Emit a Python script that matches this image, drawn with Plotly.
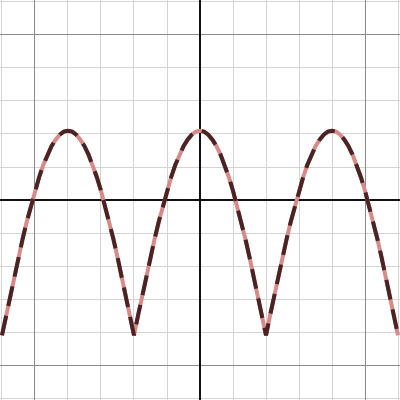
import plotly.graph_objects as go

# x from -6 to 6 step 0.125, y values
xs = [-6 + 0.125 * i for i in range(97)]
ys = [-4.10, -3.49, -2.89, -2.30, -1.73, -1.18, -0.66, -0.17, 0.28, 0.69, 1.06, 1.37, 1.63, 1.83, 1.98, 2.07,
      2.10, 2.07, 1.98, 1.83, 1.63, 1.37, 1.06, 0.69, 0.28, -0.17, -0.66, -1.18, -1.73, -2.30, -2.89, -3.49,
      -4.10, -3.49, -2.89, -2.30, -1.73, -1.18, -0.66, -0.17, 0.28, 0.69, 1.06, 1.37, 1.63, 1.83, 1.98, 2.07,
      2.10, 2.07, 1.98, 1.83, 1.63, 1.37, 1.06, 0.69, 0.28, -0.17, -0.66, -1.18, -1.73, -2.30, -2.89, -3.49,
      -4.10, -3.49, -2.89, -2.30, -1.73, -1.18, -0.66, -0.17, 0.28, 0.69, 1.06, 1.37, 1.63, 1.83, 1.98, 2.07,
      2.10, 2.07, 1.98, 1.83, 1.63, 1.37, 1.06, 0.69, 0.28, -0.17, -0.66, -1.18, -1.73, -2.30, -2.89, -3.49,
      -4.10]

fig = go.Figure()
fig.add_trace(go.Scatter(x=xs, y=ys, mode="lines", line=dict(color="#d88a88", width=4)))
fig.add_trace(go.Scatter(x=xs, y=ys, mode="lines", line=dict(color="#4a2424", width=4, dash="20px,10px")))

ax = dict(range=[-6.06, 6.06], dtick=5, tick0=0, showticklabels=False, ticks="",
          showgrid=True, gridcolor="#8a8a8a", gridwidth=1,
          minor=dict(dtick=1, tick0=0, showgrid=True, gridcolor="#d4d4d4", gridwidth=1),
          zeroline=True, zerolinecolor="#111111", zerolinewidth=1.5, fixedrange=True)
fig.update_layout(width=400, height=400, margin=dict(l=0, r=0, t=0, b=0),
                  plot_bgcolor="white", paper_bgcolor="white", showlegend=False,
                  xaxis=ax, yaxis=ax)
fig.write_html("out.html", config={"displayModeBar": False},
               post_script="document.body.style.margin='0';document.body.style.overflow='hidden';")
